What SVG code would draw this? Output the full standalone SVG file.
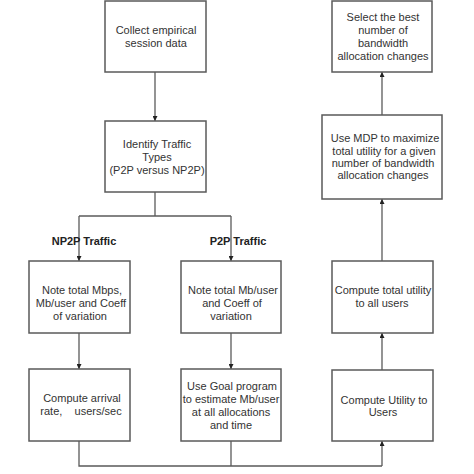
<svg xmlns="http://www.w3.org/2000/svg" width="474" height="474" viewBox="0 0 474 474">
<defs>
<style>
.box{fill:#fff;stroke:#5a5a5a;stroke-width:1.5}
.ln{fill:none;stroke:#5a5a5a;stroke-width:1.3}
text{font-family:"Liberation Sans",Arial,sans-serif;font-size:11px;fill:#333;text-anchor:middle}
.lbl{font-weight:bold;fill:#222}
</style>
<marker id="ah" viewBox="0 0 10 10" refX="10" refY="5" markerWidth="5" markerHeight="5" markerUnits="userSpaceOnUse" orient="auto">
<path d="M0,0L10,5L0,10z" fill="#222"/>
</marker>
</defs>
<rect width="474" height="474" fill="#fff"/>
<g id="connectors">
<line class="ln" x1="155" y1="72" x2="155" y2="121" marker-end="url(#ah)"/>
<polyline class="ln" points="155,192 155,216"/>
<polyline class="ln" points="79,216 231,216"/>
<line class="ln" x1="79" y1="216" x2="79" y2="261" marker-end="url(#ah)"/>
<line class="ln" x1="231" y1="216" x2="231" y2="261" marker-end="url(#ah)"/>
<line class="ln" x1="79" y1="333" x2="79" y2="369" marker-end="url(#ah)"/>
<line class="ln" x1="231" y1="333" x2="231" y2="369" marker-end="url(#ah)"/>
<polyline class="ln" points="79,441 79,466 382,466"/>
<line class="ln" x1="231" y1="441" x2="231" y2="466"/>
<line class="ln" x1="382" y1="466" x2="382" y2="441" marker-end="url(#ah)"/>
<line class="ln" x1="382" y1="370" x2="382" y2="333" marker-end="url(#ah)"/>
<line class="ln" x1="382" y1="261" x2="382" y2="199" marker-end="url(#ah)"/>
<line class="ln" x1="382" y1="115" x2="382" y2="72" marker-end="url(#ah)"/>
<text class="lbl" x="84" y="245">NP2P Traffic</text>
<text class="lbl" x="238" y="245">P2P Traffic</text>
</g>
<g id="collect">
<rect class="box" x="105" y="1" width="101" height="71"/>
<text x="156" y="34">Collect empirical</text>
<text x="156" y="47">session data</text>
</g>
<g id="identify">
<rect class="box" x="105" y="121" width="101" height="71"/>
<text x="157" y="148">Identify Traffic</text>
<text x="157" y="161">Types</text>
<text x="157" y="174">(P2P versus NP2P)</text>
</g>
<g id="np2p-note">
<rect class="box" x="29" y="261" width="101" height="72"/>
<text x="82" y="294">Note total Mbps,</text>
<text x="81" y="307">Mb/user and Coeff</text>
<text x="80" y="320">of variation</text>
</g>
<g id="np2p-arrival">
<rect class="box" x="29" y="369" width="101" height="72"/>
<text x="82" y="402">Compute arrival</text>
<text x="81" y="415" xml:space="preserve">rate,    users/sec</text>
</g>
<g id="p2p-note">
<rect class="box" x="181" y="261" width="100" height="72"/>
<text x="233" y="294">Note total Mb/user</text>
<text x="232" y="307">and Coeff of</text>
<text x="231" y="320">variation</text>
</g>
<g id="p2p-goal">
<rect class="box" x="181" y="369" width="100" height="72"/>
<text x="232" y="390">Use Goal program</text>
<text x="231" y="403">to estimate Mb/user</text>
<text x="231" y="416">at all allocations</text>
<text x="231" y="429">and time</text>
</g>
<g id="utility-users">
<rect class="box" x="332" y="370" width="101" height="71"/>
<text x="384" y="404">Compute Utility to</text>
<text x="383" y="416">Users</text>
</g>
<g id="total-utility">
<rect class="box" x="332" y="261" width="101" height="72"/>
<text x="383" y="294">Compute total utility</text>
<text x="382" y="307">to all users</text>
</g>
<g id="mdp">
<rect class="box" x="322" y="115" width="120" height="84"/>
<text x="385" y="142">Use MDP to maximize</text>
<text x="384" y="155">total utility for a given</text>
<text x="383" y="167">number of bandwidth</text>
<text x="383" y="179">allocation changes</text>
</g>
<g id="select">
<rect class="box" x="332" y="1" width="100" height="71"/>
<text x="383" y="21">Select the best</text>
<text x="383" y="34">number of</text>
<text x="383" y="47">bandwidth</text>
<text x="383" y="60">allocation changes</text>
</g>
</svg>
